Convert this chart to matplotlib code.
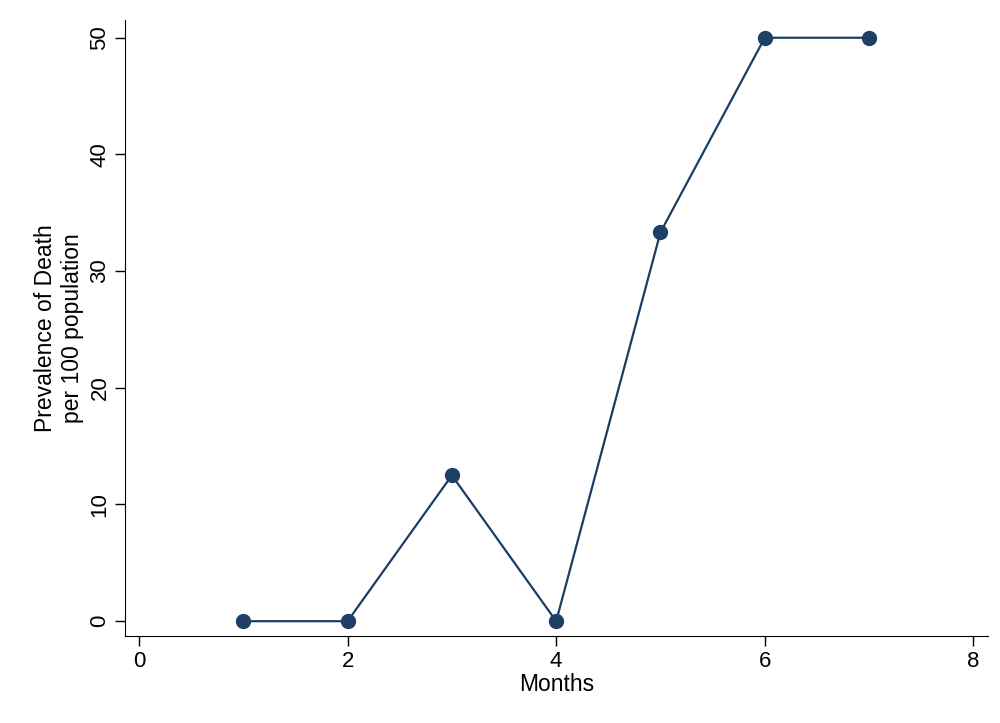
import matplotlib
matplotlib.use('Agg')
import matplotlib.pyplot as plt

months = [1, 2, 3, 4, 5, 6, 7]
prevalence = [0, 0, 12.5, 0, 33.33, 50, 50]
x_ticks = [0, 2, 4, 6, 8]
y_ticks = [0, 10, 20, 30, 40, 50]

plt.rcParams['font.family'] = ['Liberation Sans', 'DejaVu Sans']

fig = plt.figure(figsize=(10, 7.23), dpi=100)
ax = fig.add_axes([0.125, 0.12, 0.863, 0.852])
ax.plot(months, prevalence, color='#1a3e63', lw=1.6, marker='o', ms=10,
        markerfacecolor='#1f3f66', markeredgecolor='#1f3f66')
ax.set_xlim(-0.134, 8.14)
ax.set_ylim(-1.29, 51.5)
ax.set_xticks(x_ticks)
ax.set_yticks(y_ticks)
ax.tick_params(labelsize=16, length=7, width=1)
for lab in ax.get_yticklabels():
    lab.set_rotation(90)
    lab.set_va('center')
ax.spines['top'].set_visible(False)
ax.spines['right'].set_visible(False)
ax.set_xlabel('Months', fontsize=16.5, labelpad=1)
ax.set_ylabel('Prevalence of Death\nper 100 population', fontsize=16.5, labelpad=4)
fig.savefig('out.png')
